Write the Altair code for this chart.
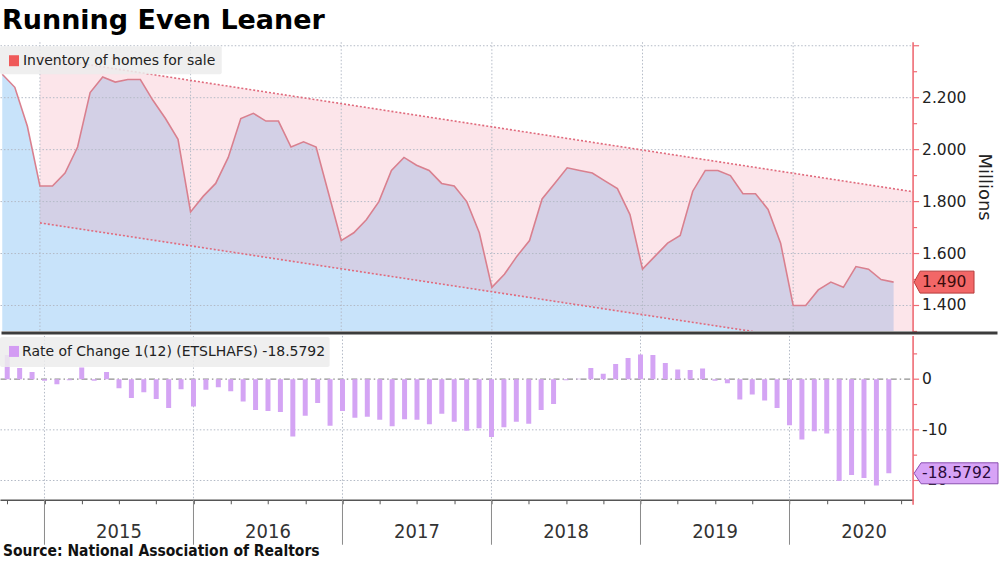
import altair as alt
import pandas as pd

# ---------------- data ----------------
months = [f"{2014 + (8 + i) // 12}-{(8 + i) % 12 + 1:02d}" for i in range(72)]  # 2014-09 .. 2020-08

inventory = [
    2.29, 2.24, 2.09, 1.86,
    1.86, 1.91, 2.01, 2.22, 2.28, 2.26, 2.27, 2.27, 2.19, 2.12, 2.04, 1.76,
    1.82, 1.87, 1.97, 2.12, 2.14, 2.11, 2.11, 2.01, 2.03, 2.01, 1.83, 1.65,
    1.68, 1.73, 1.80, 1.92, 1.97, 1.94, 1.92, 1.87, 1.86, 1.80, 1.68, 1.47,
    1.52, 1.59, 1.65, 1.81, 1.87, 1.93, 1.92, 1.91, 1.88, 1.85, 1.75, 1.54,
    1.59, 1.64, 1.67, 1.84, 1.92, 1.92, 1.90, 1.83, 1.83, 1.77, 1.64, 1.40,
    1.40, 1.46, 1.49, 1.47, 1.55, 1.54, 1.50, 1.49,
]

roc = [
    4.8, 2.2, 1.4, -0.3,
    -1.0, -0.2, 2.3, -0.3, 1.4, -1.8, -3.7, -2.6, -3.9, -5.7, -2.0, -5.4,
    -2.1, -1.6, -2.4, -4.4, -6.1, -6.3, -6.5, -11.3, -7.2, -4.7, -9.2, -6.3,
    -7.6, -7.4, -8.0, -9.3, -7.9, -8.0, -8.9, -6.8, -8.4, -10.2, -9.7, -11.4,
    -9.5, -8.4, -8.8, -6.1, -4.9, -0.2, 0.1, 2.2, 1.1, 3.0, 4.2, 4.9,
    4.8, 3.2, 1.9, 1.8, 2.1, -0.3, -0.8, -4.0, -3.0, -4.2, -5.7, -9.1,
    -11.9, -10.3, -10.7, -20.1, -18.9, -19.5, -21.0, -18.5792,
]

inv_last = 1.49
inv_last_label = "1.490"
roc_last = -18.5792
roc_last_label = "-18.5792"

year_starts = [2015, 2016, 2017, 2018, 2019, 2020]
year_labels = ["2015", "2016", "2017", "2018", "2019", "2020"]
quarter_ticks = [2014.75 + 0.25 * k for k in range(25)]

top_grid = [1.4, 1.6, 1.8, 2.0, 2.2, 2.4]
top_label_vals = [1.4, 1.6, 1.8, 2.0, 2.2]
top_label_text = ["1.400", "1.600", "1.800", "2.000", "2.200"]
top_minor = [1.3, 1.5, 1.7, 1.9, 2.1, 2.3]
bot_grid = [-20, -10]
bot_label_vals = [-20, -10, 0]
bot_label_text = ["-20", "-10", "0"]
bot_minor = [-15, -5, 5]

trend_t = [2015.0, 2020.796]
trend_upper = [2.356, 1.838]
trend_lower = [1.718, 1.206]

x_domain = [2014.735, 2020.796]
top_domain = [1.302, 2.4135]
bot_domain = [-23.81, 8.54]

TITLE = "Running Even Leaner"
SOURCE = "Source:  National Association of Realtors"
LEG1 = "Inventory of homes for sale"
LEG2 = "Rate of Change 1(12) (ETSLHAFS) -18.5792"


def month_pos(m):
    y, mo = m.split("-")
    return int(y) + int(mo) / 12.0


df = pd.DataFrame({"month": months, "t": [month_pos(m) for m in months],
                   "inv": inventory, "roc": roc})
trend = pd.DataFrame({"t": trend_t, "upper": trend_upper, "lower": trend_lower})
years = pd.DataFrame({"t": year_starts})
ylab = pd.DataFrame({"t": [y + 0.5 for y in year_starts], "label": year_labels})
one = pd.DataFrame({"a": [0]})

# ---------------- style ----------------
W, H1, H2 = 914, 289, 164
TOP_OFF = 42
RED = "#ef6b74"
GRID = "#b3bac6"
FONT = "DejaVu Sans"
BLUE = "#c8e3fa"
PINK = "rgb(245,150,170)"
LINE = "#d9808f"
BAR = "#d4a4f4"

xs = alt.Scale(domain=x_domain, nice=False, zero=False)
ys1 = alt.Scale(domain=top_domain, nice=False, zero=False)
ys2 = alt.Scale(domain=bot_domain, nice=False, zero=False)

X = alt.X("t:Q", scale=xs, axis=None)
Y1 = lambda f: alt.Y(f, scale=ys1, axis=None)
Y2 = lambda f: alt.Y(f, scale=ys2, axis=None)

# invisible frame: fixes the page bounds to 1000 x 563
frame = alt.Chart(one).mark_rect(color="#ffffff", opacity=0).encode(
    x=alt.value(0), x2=alt.value(1000), y=alt.value(-TOP_OFF), y2=alt.value(563 - TOP_OFF))


def right_axis(label_vals, label_text, major, minor, yenc, height):
    dom = alt.Chart(one).mark_rule(color=RED, strokeWidth=1.6).encode(
        x=alt.value(W), y=alt.value(0), y2=alt.value(height))
    maj = alt.Chart(pd.DataFrame({"v": major})).mark_rule(color=RED, strokeWidth=1.2).encode(
        y=yenc("v:Q"), x=alt.value(W), x2=alt.value(W + 6))
    mnr = alt.Chart(pd.DataFrame({"v": minor})).mark_rule(color=RED, strokeWidth=1.2).encode(
        y=yenc("v:Q"), x=alt.value(W), x2=alt.value(W + 4))
    lab = alt.Chart(pd.DataFrame({"v": label_vals, "label": label_text})).mark_text(
        align="left", baseline="middle", font=FONT, fontSize=15.5, color="#222").encode(
        y=yenc("v:Q"), x=alt.value(W + 9), text="label:N")
    return [dom, maj, mnr, lab]


# ---------------- top panel ----------------
blue_area = alt.Chart(df).mark_area(color=BLUE, clip=True).encode(
    x=X, y=Y1("inv:Q"), y2=alt.value(H1))

channel = alt.Chart(trend).mark_area(color=PINK, opacity=0.25, clip=True).encode(
    x=X, y=Y1("upper:Q"), y2="lower:Q")

hgrid1 = alt.Chart(pd.DataFrame({"v": top_grid})).mark_rule(
    color=GRID, strokeDash=[1.5, 2], strokeWidth=1).encode(
    y=Y1("v:Q"), x=alt.value(0.5), x2=alt.value(W))

vgrid1 = alt.Chart(years).mark_rule(color=GRID, strokeDash=[1.5, 2], strokeWidth=1).encode(
    x=X, y=alt.value(0), y2=alt.value(H1))

inv_line = alt.Chart(df).mark_line(color=LINE, strokeWidth=1.6, clip=True).encode(
    x=X, y=Y1("inv:Q"))

up_line = alt.Chart(trend).mark_line(color="#e06a7c", strokeWidth=1.6, strokeDash=[2, 2], clip=True).encode(
    x=X, y=Y1("upper:Q"))
lo_line = alt.Chart(trend).mark_line(color="#e06a7c", strokeWidth=1.6, strokeDash=[2, 2], clip=True).encode(
    x=X, y=Y1("lower:Q"))

axis1 = right_axis(top_label_vals, top_label_text, top_grid, top_minor, Y1, H1 + 3)

leg1_box = alt.Chart(one).mark_rect(color="#ececec", opacity=0.85, cornerRadius=2).encode(
    x=alt.value(0), x2=alt.value(222), y=alt.value(4), y2=alt.value(32))
leg1_mark = alt.Chart(one).mark_rect(color="#ef5a5a").encode(
    x=alt.value(9), x2=alt.value(19), y=alt.value(13), y2=alt.value(24))
leg1_text = alt.Chart(pd.DataFrame({"label": [LEG1]})).mark_text(
    align="left", baseline="middle", font=FONT, fontSize=14, color="#222").encode(
    text="label:N", x=alt.value(23), y=alt.value(18.5))

call1_shape = "M -1 0 L -0.8 -0.3667 L 1 -0.3667 L 1 0.3667 L -0.8 0.3667 Z"
call1 = alt.Chart(pd.DataFrame({"v": [inv_last]})).mark_point(
    shape=call1_shape, size=3600, filled=True, fill="#f26767", stroke="#b63a3a",
    strokeWidth=1, opacity=1).encode(
    y=Y1("v:Q"), x=alt.value(945))
call1_text = alt.Chart(pd.DataFrame({"v": [inv_last], "label": [inv_last_label]})).mark_text(
    align="left", baseline="middle", font=FONT, fontSize=15.5, color="#3a0c0c").encode(
    y=Y1("v:Q"), x=alt.value(923), text="label:N")

title_t = alt.Chart(pd.DataFrame({"label": [TITLE]})).mark_text(
    align="left", baseline="alphabetic", font=FONT, fontSize=27, fontWeight="bold", color="#000").encode(
    text="label:N", x=alt.value(2), y=alt.value(-13))

mill = alt.Chart(pd.DataFrame({"label": ["Millions"]})).mark_text(
    align="center", baseline="middle", font=FONT, fontSize=18, angle=90, color="#222").encode(
    text="label:N", x=alt.value(985), y=alt.value(145))

sep = alt.Chart(one).mark_rule(color="#3c3c3c", strokeWidth=3).encode(
    x=alt.value(1.5), x2=alt.value(998.5), y=alt.value(H1 + 2))

top = alt.layer(
    frame, blue_area, channel, hgrid1, vgrid1, inv_line, up_line, lo_line, *axis1,
    leg1_box, leg1_mark, leg1_text, call1, call1_text, title_t, mill, sep,
).properties(width=W, height=H1)

# ---------------- bottom panel ----------------
XB = alt.X("t:Q", scale=xs, axis=alt.Axis(
    values=quarter_ticks, labels=False, title=None, grid=False, tickSize=4,
    tickColor="#555", domainColor="#555", domainWidth=1.5, tickWidth=1))

hgrid2 = alt.Chart(pd.DataFrame({"v": bot_grid})).mark_rule(
    color=GRID, strokeDash=[1.5, 2], strokeWidth=1).encode(
    y=Y2("v:Q"), x=alt.value(0.5), x2=alt.value(W))

zero = alt.Chart(pd.DataFrame({"v": [0]})).mark_rule(
    color="#8f8f8f", strokeDash=[6, 3, 1.5, 3], strokeWidth=1.2).encode(
    y=Y2("v:Q"), x=alt.value(0.6), x2=alt.value(W))

vgrid2 = alt.Chart(years).mark_rule(color=GRID, strokeDash=[1.5, 2], strokeWidth=1).encode(
    x=XB, y=alt.value(0), y2=alt.value(H2))

bars = alt.Chart(df).mark_bar(color=BAR, size=5, orient="vertical", clip=True).encode(
    x=XB, y=Y2("roc:Q"), y2=alt.datum(0))

axis2 = right_axis(bot_label_vals, bot_label_text, bot_label_vals, bot_minor, Y2, H2 + 5)

leg2_box = alt.Chart(one).mark_rect(color="#ececec", opacity=0.85, cornerRadius=2).encode(
    x=alt.value(0), x2=alt.value(330), y=alt.value(1), y2=alt.value(31))
leg2_mark = alt.Chart(one).mark_rect(color="#d39cf3").encode(
    x=alt.value(9), x2=alt.value(19), y=alt.value(10), y2=alt.value(21))
leg2_text = alt.Chart(pd.DataFrame({"label": [LEG2]})).mark_text(
    align="left", baseline="middle", font=FONT, fontSize=14, color="#222").encode(
    text="label:N", x=alt.value(22), y=alt.value(16))

call2_shape = "M -1 0 L -0.833 -0.25 L 1 -0.25 L 1 0.25 L -0.833 0.25 Z"
call2 = alt.Chart(pd.DataFrame({"v": [roc_last]})).mark_point(
    shape=call2_shape, size=7056, filled=True, fill="#d7a3f6", stroke="#8a4fb0",
    strokeWidth=1, opacity=1).encode(
    y=Y2("v:Q"), x=alt.value(957))
call2_text = alt.Chart(pd.DataFrame({"v": [roc_last], "label": [roc_last_label]})).mark_text(
    align="left", baseline="middle", font=FONT, fontSize=15.5, color="#2a0a3a").encode(
    y=Y2("v:Q"), x=alt.value(923), text="label:N")

ysep = alt.Chart(years).mark_rule(color="#8a8a8a", strokeWidth=1).encode(
    x=XB, y=alt.value(H2), y2=alt.value(H2 + 45))

ytext = alt.Chart(ylab).mark_text(
    align="center", baseline="middle", font="Liberation Sans Narrow, DejaVu Sans Condensed, sans-serif",
    fontSize=20, color="#333").encode(
    x=XB, y=alt.value(196), text="label:N")

src = alt.Chart(pd.DataFrame({"label": [SOURCE]})).mark_text(
    align="left", baseline="alphabetic", font="DejaVu Sans Condensed, DejaVu Sans", fontSize=15.5,
    fontWeight="bold", color="#111").encode(
    text="label:N", x=alt.value(3), y=alt.value(220))

bottom = alt.layer(
    hgrid2, zero, vgrid2, bars, *axis2, leg2_box, leg2_mark, leg2_text,
    call2, call2_text, ysep, ytext, src,
).properties(width=W, height=H2)

chart = alt.vconcat(top, bottom, spacing=5, bounds="flush").properties(
    padding=0,
    background="white",
).configure_view(stroke=None)

chart.save("out.html", embed_options={"renderer": "svg", "actions": False})
